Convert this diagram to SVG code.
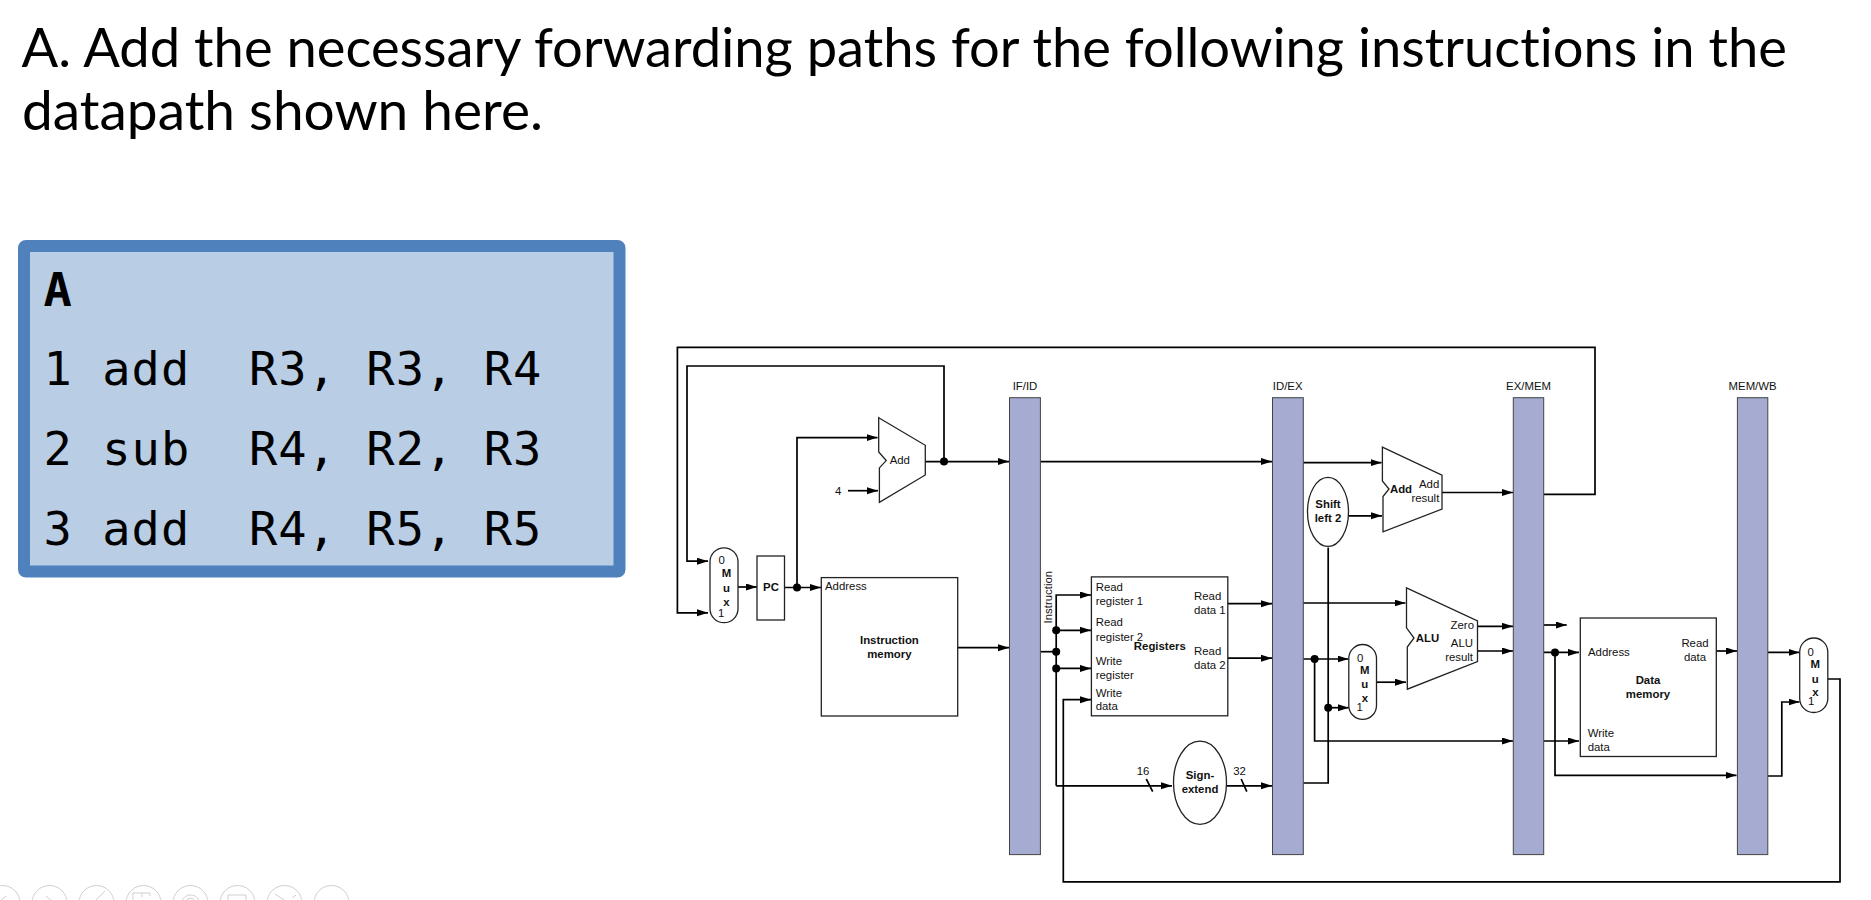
<svg xmlns="http://www.w3.org/2000/svg" width="1871" height="900" viewBox="0 0 1871 900">
<style>
.t{font-family:"Liberation Sans",Arial,sans-serif;font-size:11.4px;fill:#111}
.b{font-weight:bold;text-anchor:middle}
.m{text-anchor:middle}
.e{text-anchor:end}
.s{fill:#fff;stroke:#222;stroke-width:1.3}
.bar{fill:#a6abd1;stroke:#444;stroke-width:1}
.w{fill:none;stroke:#000;stroke-width:1.7}
.a{marker-end:url(#h)}
.d{fill:#000}
.title{font-family:Lato,"Open Sans",sans-serif;font-size:54px;fill:#000;font-variant-ligatures:none}
.code{font-family:"DejaVu Sans Mono",monospace;font-size:47px;letter-spacing:1.05px;fill:#000;white-space:pre}
.ui{fill:none;stroke:#cfcfcf;stroke-width:1}
</style>
<defs>
<marker id="h" markerUnits="userSpaceOnUse" markerWidth="12" markerHeight="8" refX="11" refY="3.5" orient="auto"><path d="M0,0 L11,3.5 L0,7 Z" fill="#000"/></marker>
</defs>
<rect width="1871" height="900" fill="#fff"/>
<g id="title">
<text class="title" x="21.5" y="67" textLength="1765.5" lengthAdjust="spacingAndGlyphs">A. Add the necessary forwarding paths for the following instructions in the</text>
<text class="title" x="22" y="130" textLength="521" lengthAdjust="spacingAndGlyphs">datapath shown here.</text>
</g>
<g id="code-box">
<rect x="24" y="246" width="595.5" height="325.5" rx="2" fill="#b9cde5" stroke="#4f81bd" stroke-width="12" stroke-linejoin="round"/>
<text class="code" x="43.5" y="305.5" font-weight="bold">A</text>
<text class="code" x="43.5" y="385" xml:space="preserve">1 add  R3, R3, R4</text>
<text class="code" x="43.5" y="465" xml:space="preserve">2 sub  R4, R2, R3</text>
<text class="code" x="43.5" y="545" xml:space="preserve">3 add  R4, R5, R5</text>
</g>
<g id="connectors">
<path class="w a" d="M1543.7,494.3H1595V347.4H677.4V612.8H708"/>
<path class="w a" d="M944,461.6V366H687V561.2H708"/>
<path class="w a" d="M738,587H757"/>
<path class="w a" d="M784.5,587.5H821"/>
<path class="w a" d="M797,587.5V437.6H877.5"/>
<path class="w a" d="M848,490.7H878"/>
<path class="w a" d="M925.3,461.6H1009"/>
<path class="w a" d="M957.7,647.7H1009"/>
<path class="w a" d="M1040.4,461.6H1272"/>
<path class="w" d="M1040.4,651.7H1056.2"/>
<path class="w a" d="M1056.2,785.8V595H1091"/>
<path class="w a" d="M1056.2,630.3H1091"/>
<path class="w a" d="M1056.2,668.4H1091"/>
<path class="w a" d="M1056.2,785.8H1172"/>
<path class="w a" d="M1827.8,679H1840V881.8H1063.3V699.7H1091"/>
<path class="w a" d="M1227.8,603.7H1272"/>
<path class="w a" d="M1227.8,658.2H1272"/>
<path class="w a" d="M1226.6,785.8H1272"/>
<path class="w" d="M1146.3,779L1152.7,791.6M1241.2,779L1246.8,791.6"/>
<path class="w a" d="M1303.3,462.7H1381.6"/>
<path class="w a" d="M1442,492.5H1513"/>
<path class="w a" d="M1348.5,515.8H1382"/>
<path class="w" d="M1328.2,547.4V783H1303.3"/>
<path class="w a" d="M1328.2,707.7H1348.8"/>
<path class="w a" d="M1303.3,603H1405.5"/>
<path class="w a" d="M1303.3,659H1348.5"/>
<path class="w a" d="M1314.6,659V741H1513"/>
<path class="w a" d="M1376.5,682.2H1406"/>
<path class="w a" d="M1477.5,626.3H1513"/>
<path class="w a" d="M1477.5,651H1513"/>
<path class="w a" d="M1543.7,625H1566.7"/>
<path class="w a" d="M1543.7,652.4H1579"/>
<path class="w a" d="M1555,652.4V775.3H1736.5"/>
<path class="w a" d="M1543.7,741H1579"/>
<path class="w a" d="M1716.3,651H1737"/>
<path class="w a" d="M1767.8,652.4H1799.5"/>
<path class="w a" d="M1767.8,776H1781.8V702H1799.5"/>
<circle class="d" cx="944" cy="461.6" r="4"/>
<circle class="d" cx="797" cy="587.5" r="4"/>
<circle class="d" cx="1056.2" cy="630.3" r="4"/>
<circle class="d" cx="1056.2" cy="651.7" r="4"/>
<circle class="d" cx="1056.2" cy="668.4" r="4"/>
<circle class="d" cx="1314.6" cy="659" r="4"/>
<circle class="d" cx="1328.2" cy="707.7" r="4"/>
<circle class="d" cx="1555" cy="652.4" r="4"/>
</g>
<g id="nodes" transform="translate(0,-1)">
<g id="if-id"><rect class="bar" x="1009.5" y="398.7" width="30.9" height="456.9"/><text class="t m" x="1025" y="390.5">IF/ID</text></g>
<g id="id-ex"><rect class="bar" x="1272.5" y="398.7" width="30.8" height="456.9"/><text class="t m" x="1287.7" y="390.5">ID/EX</text></g>
<g id="ex-mem"><rect class="bar" x="1513.3" y="398.7" width="30.4" height="456.9"/><text class="t m" x="1528.5" y="390.5">EX/MEM</text></g>
<g id="mem-wb"><rect class="bar" x="1737.4" y="398.7" width="30.4" height="456.9"/><text class="t m" x="1752.6" y="390.5">MEM/WB</text></g>
<g id="labels-misc">
<text class="t" x="835" y="496">4</text>
<text class="t m" x="1143" y="776.4">16</text>
<text class="t m" x="1239.6" y="776.4">32</text>
<text class="t" transform="translate(1051.5,624.4) rotate(-90)">Instruction</text>
</g>
<g id="mux-pc"><rect class="s" x="710" y="548.8" width="28" height="74.9" rx="14" ry="14"/>
<text class="t" x="718.5" y="565">0</text><text class="t b" x="726.4" y="578">M</text><text class="t b" x="726.4" y="592.5">u</text><text class="t b" x="726.4" y="606.5">x</text><text class="t" x="718" y="617.5">1</text></g>
<g id="pc"><rect class="s" x="757" y="557" width="27.5" height="64"/><text class="t b" x="771" y="591.5">PC</text></g>
<g id="pc-adder"><path class="s" d="M878.7,418.7L925.3,446.3V476L879.4,503.4V468.9L886.2,461.6L878.7,452.9Z"/><text class="t" x="889.7" y="465">Add</text></g>
<g id="instr-mem"><rect class="s" x="821.3" y="578.6" width="136.4" height="138.4"/><text class="t" x="825" y="591">Address</text>
<text class="t b" x="889.4" y="644.8">Instruction</text><text class="t b" x="889.4" y="658.6">memory</text></g>
<g id="registers"><rect class="s" x="1091.4" y="577.9" width="136.4" height="138.9"/>
<text class="t" x="1095.7" y="592.4">Read</text><text class="t" x="1095.7" y="606.3">register 1</text>
<text class="t" x="1095.7" y="627.3">Read</text><text class="t" x="1095.7" y="641.5">register 2</text>
<text class="t" x="1095.7" y="666.2">Write</text><text class="t" x="1095.7" y="680">register</text>
<text class="t" x="1095.7" y="697.5">Write</text><text class="t" x="1095.7" y="711.3">data</text>
<text class="t b" x="1159.8" y="651.3">Registers</text>
<text class="t" x="1194" y="601.2">Read</text><text class="t" x="1194" y="615">data 1</text>
<text class="t" x="1194" y="655.7">Read</text><text class="t" x="1194" y="669.5">data 2</text></g>
<g id="sign-extend"><ellipse class="s" cx="1200" cy="783.8" rx="26.5" ry="41.6"/><text class="t b" x="1200" y="780">Sign-</text><text class="t b" x="1200" y="793.8">extend</text></g>
<g id="shift-left"><ellipse class="s" cx="1328" cy="512.9" rx="20.5" ry="34.5"/><text class="t b" x="1328" y="508.8">Shift</text><text class="t b" x="1328" y="523">left 2</text></g>
<g id="branch-adder"><path class="s" d="M1382.4,448.1L1442,476.1V510L1383,532.8V497.6L1389,490L1382.4,482Z"/>
<text class="t b" x="1401" y="494">Add</text><text class="t e" x="1439.3" y="488.5">Add</text><text class="t e" x="1439.3" y="502.7">result</text></g>
<g id="alu-mux"><rect class="s" x="1348.8" y="645.5" width="27.7" height="74.9" rx="14" ry="14"/>
<text class="t" x="1357" y="663">0</text><text class="t b" x="1364.8" y="675">M</text><text class="t b" x="1364.8" y="689">u</text><text class="t b" x="1364.8" y="703">x</text><text class="t" x="1356.5" y="712">1</text></g>
<g id="alu"><path class="s" d="M1406.5,588.8L1477.5,621.9V662.6L1407.3,690.2V648L1414,639L1406.5,628.8Z"/>
<text class="t b" x="1427.5" y="643">ALU</text><text class="t e" x="1474" y="630">Zero</text><text class="t e" x="1473" y="648">ALU</text><text class="t e" x="1473" y="662.2">result</text></g>
<g id="data-mem"><rect class="s" x="1580.3" y="619" width="136" height="138.5"/>
<text class="t" x="1588" y="657">Address</text><text class="t m" x="1695" y="648">Read</text><text class="t m" x="1695" y="662">data</text>
<text class="t b" x="1648" y="685">Data</text><text class="t b" x="1648" y="699">memory</text>
<text class="t" x="1587.7" y="737.5">Write</text><text class="t" x="1587.7" y="751.6">data</text></g>
<g id="wb-mux"><rect class="s" x="1799.7" y="639" width="28.1" height="74.5" rx="14" ry="14"/>
<text class="t" x="1807.5" y="656.8">0</text><text class="t b" x="1815.3" y="669">M</text><text class="t b" x="1815.3" y="683.5">u</text><text class="t b" x="1815.3" y="697">x</text><text class="t" x="1808" y="706">1</text></g>
</g>
<g id="slide-controls">
<circle class="ui" cx="2.5" cy="903" r="17.5"/><circle class="ui" cx="49.5" cy="903" r="17.5"/><circle class="ui" cx="96.5" cy="903" r="17.5"/><circle class="ui" cx="143.5" cy="903" r="17.5"/><circle class="ui" cx="190.5" cy="903" r="17.5"/><circle class="ui" cx="237.5" cy="903" r="17.5"/><circle class="ui" cx="284.5" cy="903" r="17.5"/><circle class="ui" cx="331.5" cy="903" r="17.5"/>
<path class="ui" d="M6,896L-1,902M46,896L53,902M105,891L94,902M133,901V893H150V896M142,893V897M182,901A9,9 0 0 1 199,901M186,901A5,5 0 0 1 195,901M228,901V895H246V901M275,894L284,900M292,898L296,895"/>
</g>
</svg>
